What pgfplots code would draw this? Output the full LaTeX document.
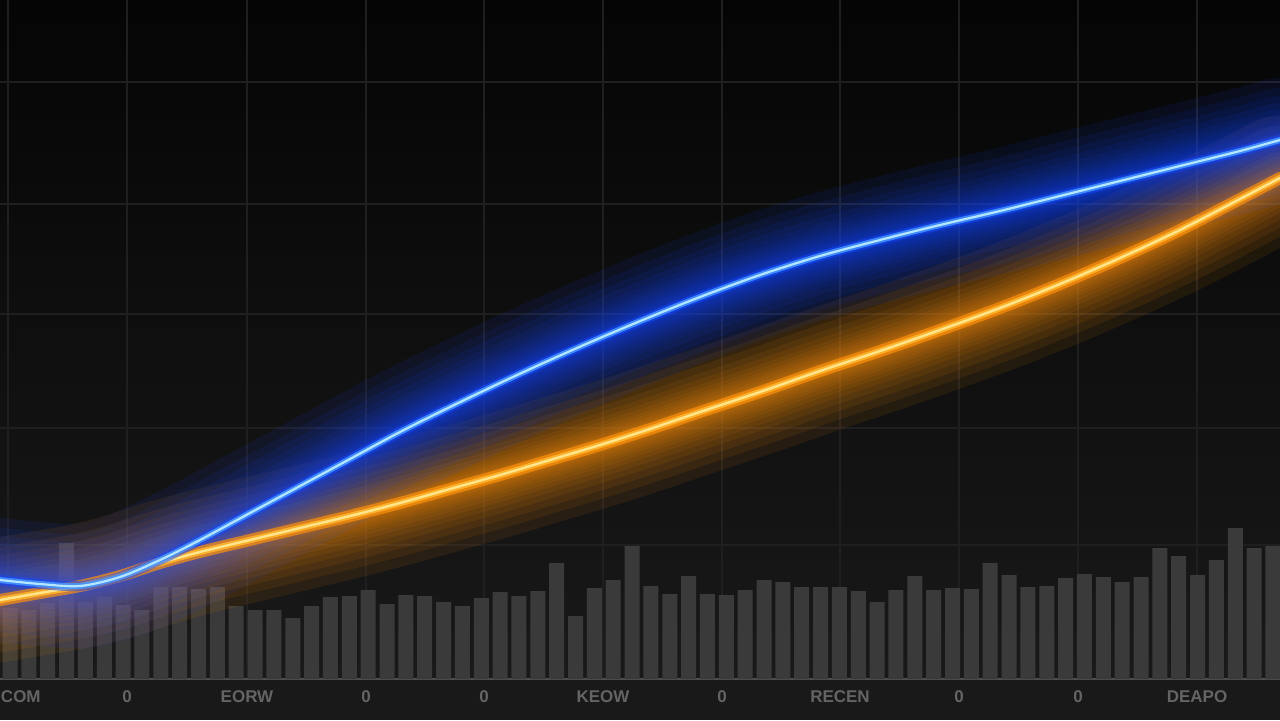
\documentclass[border=0pt]{standalone}
\usepackage{pgfplots}
\pgfplotsset{compat=1.18}
\usepackage{pgfplotstable}
\usepackage{fontspec}
\setmainfont{Liberation Sans}
\definecolor{bgtop}{RGB}{5,5,5}
\definecolor{bgbot}{RGB}{25,25,25}
\definecolor{strip}{RGB}{25,25,25}
\definecolor{gridc}{RGB}{31,31,31}
\definecolor{barc}{RGB}{58,58,58}
\definecolor{basec}{RGB}{78,78,78}
\definecolor{labc}{RGB}{100,100,100}
\definecolor{bluemain}{RGB}{20,70,255}
\definecolor{bluemid}{RGB}{70,150,255}
\definecolor{bluecore}{RGB}{180,230,255}
\definecolor{orgmain}{RGB}{255,145,10}
\definecolor{orgmid}{RGB}{255,180,45}
\definecolor{orgcore}{RGB}{255,230,140}

\pgfplotstableread{
x y
0 99
40 95
80 93
120 102
160 119
200 139
250 166
300 193
350 220
400 247
450 272
500 296
550 319
600 341
650 362
700 382
760 404
820 423
880 439
940 454
1000 468
1060 483
1120 498
1180 513
1240 528
1280 539
}\bluedata

\pgfplotstableread{
x y
0 79
40 86
80 93
120 103
160 116
200 127
250 139
300 151
350 163
400 176
450 190
500 204
550 219
600 234
650 250
700 267
760 287
820 308
880 328
940 349
1000 371
1060 395
1120 421
1180 449
1240 480
1280 501
}\orangedata

\pgfplotstableread{
x y
10 71
28.85 69
47.7 76
66.55 136
85.4 77
104.25 82
123.1 74
141.95 69
160.8 92
179.65 92
198.5 90
217.35 92
236.2 73
255.05 69
273.9 69
292.75 61
311.6 73
330.45 82
349.3 83
368.15 89
387 75
405.85 84
424.7 83
443.55 77
462.4 73
481.25 81
500.1 87
518.95 83
537.8 88
556.65 116
575.5 63
594.35 91
613.2 99
632.05 133
650.9 93
669.75 85
688.6 103
707.45 85
726.3 84
745.15 89
764 99
782.85 97
801.7 92
820.55 92
839.4 92
858.25 88
877.1 77
895.95 89
914.8 103
933.65 89
952.5 91
971.35 90
990.2 116
1009.05 104
1027.9 92
1046.75 93
1065.6 101
1084.45 105
1103.3 102
1122.15 97
1141 102
1159.85 131
1178.7 123
1197.55 104
1216.4 119
1235.25 151
1254.1 131
1272.95 133
}\bardata

\begin{document}
\begin{tikzpicture}
\fill[strip] (0,-20.5pt) rectangle (640pt,339.5pt);
\begin{axis}[
  scale only axis,
  width=640pt, height=339.5pt,
  xmin=0, xmax=1280, ymin=0, ymax=679,
  axis background/.style={top color=bgtop, bottom color=bgbot},
  axis x line*=bottom,
  axis y line*=left,
  x axis line style={draw=basec, line width=1pt},
  y axis line style={draw=none},
  xtick={8,127,247,366,484,603,722,840,959,1078,1197},
  xticklabels={{\makebox[0pt][l]{\hspace{-3.5pt}COM}},0,EORW,0,0,KEOW,0,RECEN,0,0,DEAPO},
  ytick={134,251,365,475,597},
  yticklabels={},
  major tick length=0pt,
  xmajorgrids, ymajorgrids,
  grid style={draw=gridc, line width=0.6pt},
  xticklabel style={font=\bfseries\fontsize{8.5}{9}\selectfont, text=labc, anchor=center, yshift=-9pt},
  clip=true,
]
\addplot[ybar, bar width=7.5pt, bar shift=0pt, fill=barc, draw=none] table {\bardata};

% orange glow
\pgfplotsinvokeforeach{62,52,44,37,31,26,22,18,15,12,9.5,7.5,5.5}{
  \addplot[smooth, draw=orgmain, opacity=0.085, line width=#1pt, line cap=round, line join=round] table {\orangedata};
}
% blue glow
\pgfplotsinvokeforeach{62,52,44,37,31,26,22,18,15,12,9.5,7.5,5.5}{
  \addplot[smooth, draw=bluemain, opacity=0.085, line width=#1pt, line cap=round, line join=round] table {\bluedata};
}
% cores
\addplot[smooth, draw=orgmain, opacity=0.7, line width=6pt, line cap=round, line join=round] table {\orangedata};
\addplot[smooth, draw=orgmid, opacity=0.9, line width=3.2pt, line cap=round, line join=round] table {\orangedata};
\addplot[smooth, draw=orgcore, line width=1.2pt, line cap=round, line join=round] table {\orangedata};
\addplot[smooth, draw=bluemain, opacity=0.5, line width=5pt, line cap=round, line join=round] table {\bluedata};
\addplot[smooth, draw=bluemid, opacity=0.85, line width=3pt, line cap=round, line join=round] table {\bluedata};
\addplot[smooth, draw=bluecore, line width=1.1pt, line cap=round, line join=round] table {\bluedata};
\end{axis}
\pgfresetboundingbox
\useasboundingbox (0,-20.5pt) rectangle (640pt,339.5pt);
\end{tikzpicture}
\end{document}
